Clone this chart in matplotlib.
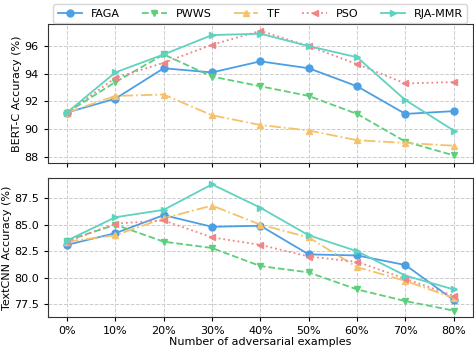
import matplotlib
matplotlib.use("Agg")
import matplotlib.pyplot as plt

x_labels = ["0%", "10%", "20%", "30%", "40%", "50%", "60%", "70%", "80%"]
methods = ["FAGA", "PWWS", "TF", "PSO", "RJA-MMR"]

bert_faga = [91.2, 92.2, 94.4, 94.1, 94.9, 94.4, 93.1, 91.1, 91.3]
bert_pwws = [91.2, 93.4, 95.4, 93.8, 93.1, 92.4, 91.1, 89.1, 88.1]
bert_tf = [91.2, 92.4, 92.5, 91.0, 90.3, 89.9, 89.2, 89.0, 88.8]
bert_pso = [91.2, 93.7, 94.8, 96.1, 97.1, 96.0, 94.7, 93.3, 93.4]
bert_rja = [91.2, 94.1, 95.4, 96.8, 96.9, 96.0, 95.2, 92.1, 89.9]

cnn_faga = [83.1, 84.2, 85.9, 84.8, 84.9, 82.2, 82.1, 81.2, 77.9]
cnn_pwws = [83.5, 85.0, 83.4, 82.8, 81.1, 80.5, 78.9, 77.8, 76.9]
cnn_tf = [83.4, 84.0, 85.6, 86.8, 85.0, 83.8, 81.0, 79.7, 78.1]
cnn_pso = [83.4, 85.1, 85.4, 83.8, 83.1, 82.0, 81.5, 79.9, 78.3]
cnn_rja = [83.5, 85.7, 86.4, 88.8, 86.6, 84.0, 82.5, 80.2, 78.9]

colors = ["#4d9fe3", "#5ccf7a", "#f5c26b", "#f08585", "#5fd2c0"]
markers = ["o", "v", "^", "<", ">"]
styles = ["-", "--", "-.", ":", "-"]

fig = plt.figure(figsize=(4.74, 3.51), dpi=100)
ax1 = fig.add_axes([0.1006, 0.5356, 0.8974, 0.396])
ax2 = fig.add_axes([0.1006, 0.0969, 0.8974, 0.396])

xs = list(range(len(x_labels)))
bert = [bert_faga, bert_pwws, bert_tf, bert_pso, bert_rja]
cnn = [cnn_faga, cnn_pwws, cnn_tf, cnn_pso, cnn_rja]

for ax, data in ((ax1, bert), (ax2, cnn)):
    for name, ys, c, m, ls in zip(methods, data, colors, markers, styles):
        ax.plot(xs, ys, color=c, marker=m, linestyle=ls, linewidth=1.3,
                markersize=5, label=name)
    ax.grid(True, linestyle="--", color="#cccccc", linewidth=0.7)
    ax.set_xticks(xs)
    ax.tick_params(labelsize=8, length=3)
    for s in ax.spines.values():
        s.set_color("#333333")

ax1.set_xticklabels([])
ax1.set_ylim(87.55, 97.6)
ax1.set_yticks([88, 90, 92, 94, 96])
ax1.set_ylabel("BERT-C Accuracy (%)", fontsize=8, labelpad=2)

ax2.set_xticklabels(x_labels)
ax2.set_ylim(76.3, 89.4)
ax2.set_yticks([77.5, 80.0, 82.5, 85.0, 87.5])
ax2.set_ylabel("TextCNN Accuracy (%)", fontsize=8, labelpad=1)
ax2.set_xlabel("Number of adversarial examples", fontsize=8, labelpad=1)

ax1.legend(loc="lower center", bbox_to_anchor=(0.5, 0.99), ncol=5,
           fontsize=8, frameon=True, handlelength=2.2, columnspacing=2.0,
           borderaxespad=0.2)

fig.savefig("out.png", dpi=100)
